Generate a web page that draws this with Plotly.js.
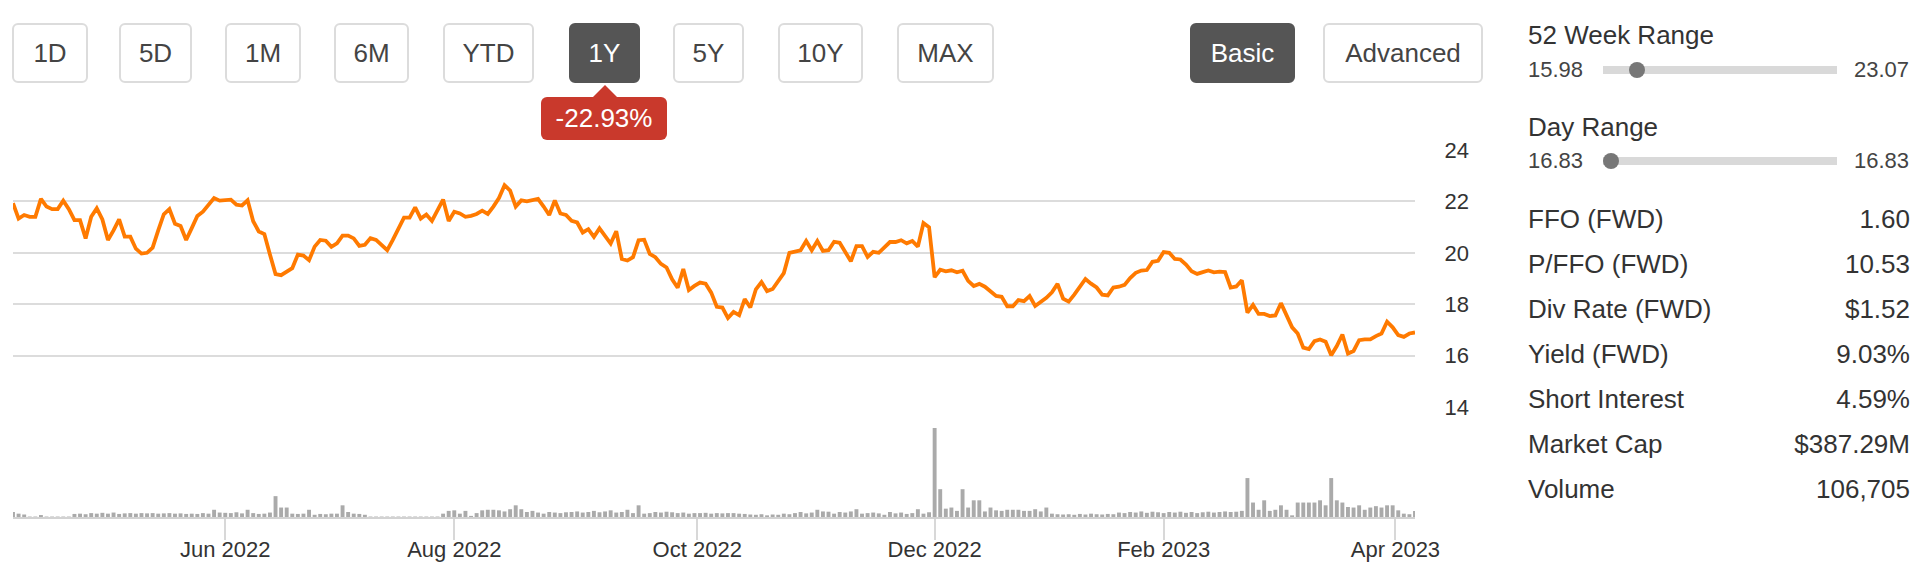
<!DOCTYPE html>
<html>
<head>
<meta charset="utf-8">
<script src="https://cdn.plot.ly/plotly-3.0.1.min.js"></script>
<style>
html,body{margin:0;padding:0;background:#fff;width:1925px;height:570px;overflow:hidden;
  font-family:"Liberation Sans",Arial,Helvetica,sans-serif;color:#333;}
#chart{position:absolute;left:0;top:0;width:1925px;height:570px;}
.btn{position:absolute;top:23px;height:60px;box-sizing:border-box;border:2px solid #dcdcdc;border-radius:6px;
  background:#fff;color:#444;font-size:26px;display:flex;align-items:center;justify-content:center;z-index:5;}
.btn.on{background:#555;border-color:#555;color:#fff;}
.badge{position:absolute;left:541px;top:97px;width:126px;height:43px;background:#c9392c;border-radius:6px;color:#fff;
  font-size:26px;display:flex;align-items:center;justify-content:center;z-index:5;}
.pointer{position:absolute;left:592px;top:85px;width:0;height:0;border-left:13px solid transparent;
  border-right:13px solid transparent;border-bottom:13px solid #c9392c;z-index:5;}
.txt{position:absolute;white-space:nowrap;z-index:5;}
.big{font-size:26px;line-height:30px;color:#333;}
.small{font-size:22px;line-height:26px;color:#444;}
.bar{position:absolute;height:8px;background:#d9d9d9;z-index:5;}
.dot{position:absolute;width:16px;height:16px;border-radius:8px;background:#777;z-index:6;}
</style>
</head>
<body>
<div id="chart"></div>
<div id="overlay"></div>
<script>
// ---------------- DATA ----------------
const startDate = '2022-04-06';
const endDate = '2023-04-06';
const holidays = ['2022-04-15','2022-05-30','2022-06-20','2022-07-04','2022-09-05',
                  '2022-11-24','2022-12-26','2023-01-02','2023-01-16','2023-02-20'];

const prices = [
 21.93,21.33,21.47,21.40,21.40,22.10,21.80,21.70,21.70,22.03,
 21.70,21.27,21.27,20.56,21.40,21.73,21.30,20.50,20.87,21.30,
 20.63,20.63,20.16,19.97,20.00,20.20,20.87,21.50,21.70,21.13,
 21.04,20.50,20.96,21.43,21.60,21.87,22.13,22.03,22.04,22.07,
 21.87,21.84,22.04,21.23,20.83,20.73,19.93,19.17,19.13,19.27,
 19.40,19.93,19.89,19.71,20.24,20.50,20.47,20.23,20.37,20.67,
 20.67,20.56,20.27,20.31,20.57,20.50,20.29,20.10,20.50,20.95,
 21.37,21.37,21.77,21.33,21.49,21.24,21.67,22.07,21.24,21.60,
 21.53,21.40,21.44,21.51,21.64,21.51,21.80,22.13,22.63,22.42,
 21.80,22.04,22.00,22.04,22.10,21.80,21.47,22.04,21.53,21.47,
 21.24,21.18,20.79,20.92,20.62,20.95,20.68,20.36,20.84,19.76,
 19.70,19.83,20.49,20.51,19.96,19.83,19.57,19.43,18.97,18.64,
 19.37,18.55,18.71,18.84,18.80,18.45,17.90,17.87,17.46,17.70,
 17.57,18.20,17.87,18.58,18.86,18.51,18.59,18.88,19.21,20.00,
 20.04,20.10,20.46,20.10,20.46,20.07,20.10,20.43,20.39,20.04,
 19.67,20.26,20.26,19.84,20.04,20.00,20.20,20.42,20.42,20.49,
 20.37,20.46,20.24,21.16,20.99,19.05,19.34,19.28,19.32,19.24,
 19.30,18.91,18.71,18.79,18.68,18.49,18.32,18.29,17.92,17.92,
 18.16,18.12,18.32,17.93,18.07,18.25,18.46,18.79,18.22,18.10,
 18.37,18.65,18.98,18.80,18.65,18.37,18.34,18.65,18.68,18.75,
 19.02,19.22,19.31,19.33,19.65,19.69,20.03,20.00,19.76,19.74,
 19.54,19.28,19.18,19.25,19.31,19.24,19.27,19.25,18.65,18.69,
 18.93,17.67,17.97,17.62,17.62,17.54,17.56,18.04,17.58,17.10,
 16.86,16.31,16.25,16.56,16.63,16.54,16.01,16.37,16.82,16.08,
 16.18,16.60,16.63,16.63,16.76,16.86,17.32,17.10,16.80,16.73,
 16.86,16.90
];

// volume, thousands of shares
const volumes = [
 90,60,45,8,8,35,8,8,8,8,
 8,55,60,50,70,60,75,60,80,55,
 65,70,60,70,65,70,60,65,70,60,
 65,55,60,55,70,60,130,80,75,70,
 85,65,130,70,55,60,80,375,170,170,
 60,55,60,130,40,55,50,60,60,210,
 90,60,55,40,8,8,8,8,8,8,
 8,8,8,8,8,8,8,60,110,120,
 60,110,20,70,120,130,130,120,100,140,
 210,140,90,110,80,60,90,80,70,85,
 90,100,80,90,110,85,100,120,80,90,
 130,70,210,60,70,90,80,95,85,70,
 80,60,70,70,75,60,70,65,70,70,
 60,55,45,40,50,30,45,40,60,50,
 70,90,65,80,130,100,95,60,90,80,
 100,140,60,70,80,65,40,90,65,80,
 55,70,140,60,85,1600,500,150,170,110,
 500,170,300,300,100,170,120,110,130,130,
 130,110,110,140,100,170,60,50,45,50,
 40,55,45,60,50,45,55,50,80,70,
 90,80,100,75,95,85,70,90,80,95,
 75,90,70,85,95,80,90,100,90,95,
 110,700,260,130,300,110,130,210,130,30,
 260,260,260,260,300,210,700,300,260,180,
 170,210,130,170,195,170,210,210,120,60,
 50,107
];

const tickDates = ['2022-06-01','2022-08-01','2022-10-01','2022-12-01','2023-02-01','2023-04-01'];
const tickLabels = ['Jun 2022','Aug 2022','Oct 2022','Dec 2022','Feb 2023','Apr 2023'];

const rangeButtons = ['1D','5D','1M','6M','YTD','1Y','5Y','10Y','MAX'];
const activeRange = '1Y';
const viewButtons = ['Basic','Advanced'];
const activeView = 'Basic';
const changeText = '-22.93%';

const week52Low = 15.98, week52High = 23.07;
const dayLow = 16.83, dayHigh = 16.83;
const lastPrice = 16.83;

const statLabels = ['FFO (FWD)','P/FFO (FWD)','Div Rate (FWD)','Yield (FWD)','Short Interest','Market Cap','Volume'];
const statValues = ['1.60','10.53','$1.52','9.03%','4.59%','$387.29M','106,705'];

// ---------------- TRADING DATES ----------------
function fmt(d){return d.toISOString().slice(0,10);}
const dates = [];
(function(){
  const s = new Date(startDate+'T00:00:00Z'), e = new Date(endDate+'T00:00:00Z');
  for(let d=new Date(s); d<=e; d.setUTCDate(d.getUTCDate()+1)){
    const wd = d.getUTCDay();
    const k = fmt(d);
    if(wd===0||wd===6||holidays.indexOf(k)>=0) continue;
    dates.push(k+' 12:00');
  }
})();
// a month start on a weekend is placed on the collapsed weekend gap (start of next session)
const tickPos = tickDates.map(s => {
  const d = new Date(s+'T00:00:00Z');
  if(d.getUTCDay()!==0 && d.getUTCDay()!==6) return s+' 12:00';
  while(d.getUTCDay()===0 || d.getUTCDay()===6) d.setUTCDate(d.getUTCDate()+1);
  return fmt(d)+' 00:01';
});

// ---------------- PLOT ----------------
const W = 1925, H = 570;
const traces = [
  {type:'bar', x:dates, y:volumes, yaxis:'y2', marker:{color:'#aaaaaa', line:{width:0}}, hoverinfo:'skip'},
  {type:'scatter', mode:'lines', x:dates, y:prices, yaxis:'y', line:{color:'#ff7a00', width:3.8}, hoverinfo:'skip'}
];
const layout = {
  width:W, height:H, margin:{l:0,r:0,t:0,b:0},
  paper_bgcolor:'rgba(0,0,0,0)', plot_bgcolor:'rgba(0,0,0,0)', showlegend:false,
  font:{family:'"Liberation Sans", Arial, sans-serif', size:22, color:'#333'},
  bargap:0.3,
  xaxis:{type:'date', domain:[13/W, 1415/W], range:[dates[0], dates[dates.length-1]],
    rangebreaks:[{bounds:['sat','mon']},{values:holidays, dvalue:86400000}],
    anchor:'y2', showgrid:false, zeroline:false, showline:true, linecolor:'#d2d2d2', linewidth:2,
    ticks:'outside', ticklen:21, tickwidth:2, tickcolor:'#d8d8d8',
    ticklabelstandoff:-9,
    tickvals:tickPos, ticktext:tickLabels,
    tickfont:{size:22, color:'#333'}, fixedrange:true},
  yaxis:{domain:[1-407/H, 1-150/H], range:[14,24], tick0:14, dtick:2, side:'right', anchor:'x',
    showgrid:true, gridcolor:'#dcdcdc', gridwidth:2, zeroline:false, showline:false,
    ticks:'outside', ticklen:24, tickcolor:'rgba(0,0,0,0)', tickfont:{size:22, color:'#333'}, fixedrange:true},
  yaxis2:{domain:[1-517/H, 1-428/H], range:[0,1600], anchor:'x', showgrid:false, zeroline:false,
    showticklabels:false, ticks:'', showline:false, fixedrange:true}
};
Plotly.newPlot('chart', traces, layout, {displayModeBar:false, staticPlot:true});

// ---------------- HTML OVERLAY ----------------
const ov = document.getElementById('overlay');
function add(html){ov.insertAdjacentHTML('beforeend', html);}
const rangeBox = [[12,76],[119,73],[225,76],[334,75],[443,91],[569,71],[673,71],[778,85],[897,97]];
rangeButtons.forEach((b,i)=>{
  add(`<div class="btn${b===activeRange?' on':''}" style="left:${rangeBox[i][0]}px;width:${rangeBox[i][1]}px">${b}</div>`);
});
const viewBox = [[1190,105],[1323,160]];
viewButtons.forEach((b,i)=>{
  add(`<div class="btn${b===activeView?' on':''}" style="left:${viewBox[i][0]}px;width:${viewBox[i][1]}px">${b}</div>`);
});
add(`<div class="pointer"></div><div class="badge">${changeText}</div>`);

function rangeBlock(title, lo, hi, cur, titleCenter, rowCenter){
  add(`<div class="txt big" style="left:1528px;top:${titleCenter-15}px">${title}</div>`);
  add(`<div class="txt small" style="left:1528px;top:${rowCenter-13}px">${lo.toFixed(2)}</div>`);
  add(`<div class="txt small" style="right:${W-1909}px;top:${rowCenter-13}px;text-align:right">${hi.toFixed(2)}</div>`);
  const bl = 1603, bw = 234, r = 8;
  add(`<div class="bar" style="left:${bl}px;width:${bw}px;top:${rowCenter-4}px"></div>`);
  const f = hi>lo ? (cur-lo)/(hi-lo) : 0;
  const cx = bl + r + f*(bw-2*r);
  add(`<div class="dot" style="left:${cx-r}px;top:${rowCenter-r}px"></div>`);
}
rangeBlock('52 Week Range', week52Low, week52High, lastPrice, 35, 70);
rangeBlock('Day Range', dayLow, dayHigh, lastPrice, 127, 161);

statLabels.forEach((lab,i)=>{
  const c = 219 + i*45;
  add(`<div class="txt big" style="left:1528px;top:${c-15}px">${lab}</div>`);
  add(`<div class="txt big" style="right:${W-1910}px;top:${c-15}px;text-align:right">${statValues[i]}</div>`);
});
</script>
</body>
</html>
